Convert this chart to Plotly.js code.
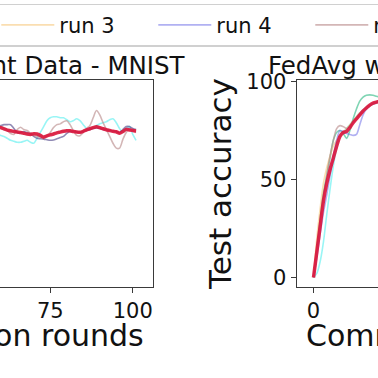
<!DOCTYPE html>
<html><head><meta charset="utf-8">
<script src="https://cdn.plot.ly/plotly-3.0.1.min.js"></script>
<style>
html,body{margin:0;padding:0;overflow:hidden;width:378px;height:378px;background:#fff}
#wrap{position:absolute;left:-500px;top:0;width:1200px;height:378px}
</style></head>
<body><div id="wrap"></div>
<script>
// ---- data ----
const runNames = ['run 1','run 2','run 3','run 4','run 5'];
const meanName = 'mean';
const xTicks = [0,25,50,75,100];
const yTicks = [0,50,100];
const titleLeft = 'FedAvg with Different Data - MNIST';
const titleRight = 'FedAvg with Different Data - CIFAR';
const xLabel = 'Communication rounds';
const yLabel = 'Test accuracy';

// left panel (rounds 59..101)
const roundsLeft = [59,60,61,62,63,64,65,66,67,68,69,70,71,72,73,74,75,76,77,78,79,80,81,82,83,84,85,86,87,88,89,90,91,92,93,94,95,96,97,98,99,100,101];
const leftRun1 = [76.5,76.2,75.5,75.0,74.6,74.3,74.0,73.8,73.4,73.0,72.8,73.2,73.0,72.3,71.8,72.4,73.0,73.4,74.0,74.4,74.8,75.0,75.0,74.6,74.3,74.2,74.8,75.5,76.1,76.6,77.0,76.6,76.0,75.5,75.1,74.7,74.5,73.8,74.6,75.6,75.2,74.9,74.7];
const leftRun2 = [73,72.5,72,71,70,69.5,69,69,69.5,70,69,68.5,71,74,77,80,81.5,82,82,81.5,81.5,80.5,79.5,80,81,80,78,76,75.5,76.5,77.5,78.5,79,79.5,80.5,81,79,76,74,76,77,73,70];
const leftRun3 = [77.0,76.8,76.0,75.4,75.1,74.7,74.4,74.2,73.8,73.4,73.2,73.6,73.4,72.7,71.8,72.5,73.0,73.4,74.0,74.4,74.8,75.1,75.1,74.7,74.4,74.3,74.8,75.4,76.0,76.6,77.0,76.7,76.1,75.6,75.2,74.8,74.5,73.7,74.5,75.6,75.4,75.1,74.9];
const leftRun4 = [77,77.5,78,78,78,76,74,74,74.5,74,73.5,72,71,70.8,70.6,70.3,70,70.2,70.8,71.4,72,73.5,74.5,74.5,74.2,74.1,74.5,75,75.5,76,76.3,76,75.6,75.3,75,74.8,74.5,74,75.5,77,77,76,75.5];
const leftRun5 = [76,77,76.5,75,73.5,73,75.5,76.7,75.5,75,73.5,72.5,72,71.5,71,72,74,76.5,78,78.4,79.5,80,78,75,72.5,72.3,74,76,77.5,81.5,85.2,83,79,75.5,72,68.5,66,66,70.5,74,75.8,75,74];
const leftMean = [76.8,76.5,75.8,75.2,74.9,74.5,74.2,74.0,73.6,73.2,73.0,73.4,73.2,72.5,71.6,72.3,72.8,73.2,73.8,74.2,74.6,74.9,74.9,74.5,74.2,74.1,74.6,75.3,75.9,76.5,76.9,76.5,75.9,75.4,75.0,74.6,74.4,73.6,74.5,75.6,75.3,75.0,74.8];

// right panel (rounds 0..21)
const roundsRight = [0,1,2,3,4,5,6,7,8,9,10,11,12,13,14,15,16,17,18,19,20,21];
const rightRun1 = [0,15,30,43,52,61,70,74,75,73.5,71,75,81,86,90,92,93,93.2,93,92.5,92,92];
const rightRun2 = [0,2,8,18,32,45,57,66,72,74,76,78,80,82,84,85.5,87,88,89,89.5,90,90];
const rightRun3 = [0,20,35,48,56,62,67,70,72,74,76,78,80,82,84,85,86.5,87.5,88.5,89,89.5,89.8];
const rightRun4 = [0,10,22,33,42,52,62,70,75,74.5,73.5,73,72.5,73,78,83,86,87.5,88.5,89,89.5,89.8];
const rightRun5 = [0,14,28,40,52,62,70,76,77.5,77,76,77,79,81,83,85,87,88,89,89.5,90,90];
const rightMean = [0,13,26,39,48,55,61,67,72,74,74.5,76.5,79,81,83,85,86.5,88,89,89.5,89.8,90];

// ---- styles ----
const runColors = ['rgba(60,190,140,0.65)','rgba(0,230,230,0.4)','rgba(245,190,100,0.5)','rgba(100,100,230,0.5)','rgba(188,143,143,0.65)'];
const runColorsLeft = ['rgba(60,190,140,0.35)','rgba(0,230,230,0.4)','rgba(245,190,100,0.4)','rgba(70,60,130,0.6)','rgba(188,143,143,0.65)'];
const meanColor = 'rgba(220,20,60,0.9)';
const FONT = 'DejaVu Sans';

const leftRuns = [leftRun1,leftRun2,leftRun3,leftRun4,leftRun5];
const rightRuns = [rightRun1,rightRun2,rightRun3,rightRun4,rightRun5];
const traces = [];
leftRuns.forEach((ys,i)=>traces.push({x:roundsLeft,y:ys,type:'scatter',mode:'lines',name:runNames[i],
  line:{color:runColorsLeft[i],width:1.6,shape:'spline',smoothing:0.8},xaxis:'x',yaxis:'y',showlegend:false,hoverinfo:'skip'}));
traces.push({x:roundsLeft,y:leftMean,type:'scatter',mode:'lines',name:meanName,line:{color:meanColor,width:3.5,shape:'spline',smoothing:0.6},xaxis:'x',yaxis:'y',showlegend:false});
rightRuns.forEach((ys,i)=>traces.push({x:roundsRight,y:ys,type:'scatter',mode:'lines',name:runNames[i],
  line:{color:runColors[i],width:1.6,shape:'spline',smoothing:0.8},xaxis:'x2',yaxis:'y2',showlegend:true}));
traces.push({x:roundsRight,y:rightMean,type:'scatter',mode:'lines',name:meanName,line:{color:meanColor,width:3.5,shape:'spline',smoothing:0.6},xaxis:'x2',yaxis:'y2',showlegend:true});

const axCommon = {showline:true,mirror:true,linecolor:'#3a3a3a',linewidth:1.2,ticks:'outside',ticklen:5,tickwidth:1.2,tickcolor:'#3a3a3a',
  showgrid:false,zeroline:false,automargin:false,tickfont:{family:FONT,size:21,color:'#111'}};
const xr = [-5.05,106.05], yr = [-4.9,100.8];
const yTitle = {text:yLabel,font:{family:FONT,size:31,color:'#111'},standoff:5};
const titleFont = {family:FONT,size:24.5,color:'#111'};
const xTitleFont = {family:FONT,size:30,color:'#111'};
const layout = {
  width:1200,height:378,margin:{l:286,r:36,t:80,b:91,autoexpand:false},
  paper_bgcolor:'#fff',plot_bgcolor:'#fff',
  font:{family:FONT,color:'#111'},
  xaxis:Object.assign({},axCommon,{domain:[0,0.4177],range:xr,tickvals:xTicks,anchor:'y'}),
  yaxis:Object.assign({},axCommon,{domain:[0,1],range:yr,tickvals:yTicks,anchor:'x',title:yTitle}),
  xaxis2:Object.assign({},axCommon,{domain:[0.5818,1],range:xr,tickvals:xTicks,anchor:'y2'}),
  yaxis2:Object.assign({},axCommon,{domain:[0,1],range:yr,tickvals:yTicks,anchor:'x2',title:yTitle}),
  annotations:[
    {text:titleLeft,xref:'paper',yref:'paper',x:0.2088,y:1,xanchor:'center',yanchor:'bottom',showarrow:false,font:titleFont,yshift:-2},
    {text:titleRight,xref:'paper',yref:'paper',x:0.7909,y:1,xanchor:'center',yanchor:'bottom',showarrow:false,font:titleFont,yshift:-2},
    {text:xLabel,xref:'paper',yref:'paper',x:0.2088,y:0,xanchor:'center',yanchor:'middle',showarrow:false,font:xTitleFont,yshift:-48},
    {text:xLabel,xref:'paper',yref:'paper',x:0.7909,y:0,xanchor:'center',yanchor:'middle',showarrow:false,font:xTitleFont,yshift:-48}
  ],
  legend:{orientation:'h',x:-0.1195,xanchor:'left',y:1.3695,yanchor:'top',bgcolor:'rgba(255,255,255,0.9)',bordercolor:'#d0d0d0',borderwidth:1.2,
    font:{family:FONT,size:21,color:'#111'},itemwidth:53,entrywidth:89,entrywidthmode:'pixels'},
  showlegend:true
};
Plotly.newPlot('wrap',traces,layout,{staticPlot:true,displayModeBar:false});
</script></body></html>
